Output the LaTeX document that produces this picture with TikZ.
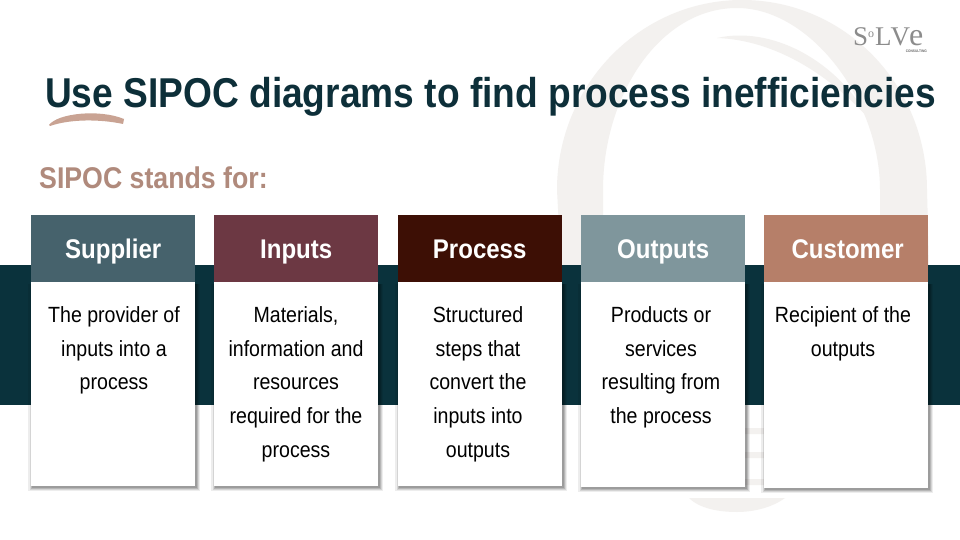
\documentclass[tikz,border=0pt]{standalone}
\usepackage{fontspec}
\setmainfont{Liberation Sans}[FakeStretch=0.89]
\newfontfamily\logofont{Liberation Serif}
\definecolor{deepteal}{HTML}{0A323C}
\definecolor{titleteal}{HTML}{0D2F39}
\definecolor{subtitlerose}{HTML}{B08A7C}
\definecolor{brush}{HTML}{C9A393}
\definecolor{ringgrey}{HTML}{F3F1EF}
\definecolor{csupplier}{HTML}{46626C}
\definecolor{cinputs}{HTML}{6C3843}
\definecolor{cprocess}{HTML}{3D0F05}
\definecolor{coutputs}{HTML}{7F969C}
\definecolor{ccustomer}{HTML}{B67F69}
\tikzset{
  cardbody/.style={fill=white,draw=none,inner sep=0pt,minimum width=164pt,anchor=north west},
  cardhead/.style={draw=none,inner sep=0pt,minimum width=164pt,minimum height=67pt,anchor=north west,
    text=white,text height=21.5pt,text depth=2.5pt,font=\fontsize{27}{30}\selectfont\bfseries},
  cardtext/.style={anchor=north,align=center,inner sep=0pt,text=black,
    font=\fontsize{22}{33.6}\selectfont},
  softshadow/.style={fill=black,opacity=#1},
}
\begin{document}
\begin{tikzpicture}[x=1pt,y=-1pt]
\useasboundingbox (0,0) rectangle (960,540);
\fill[white] (0,0) rectangle (960,540);
% background ring (arch of the large O)
\fill[ringgrey,even odd rule]
  (561,265) -- (557,190) .. controls (557,85) and (640,0) .. (742,0)
  .. controls (845,0) and (927,85) .. (927,190) -- (929,265) -- cycle
  (603,265) -- (603,190) .. controls (603,95) and (660,8) .. (737,8)
  .. controls (810,8) and (880,100) .. (880,190) -- (880,265) -- cycle;
\fill[ringgrey] (717,38) .. controls (770,26) and (835,58) .. (870,120)
  .. controls (830,75) and (775,40) .. (717,38) -- cycle;
% bottom segment of the O and the faint bars
\fill[ringgrey] (689,498) -- (785,498) .. controls (770,509) and (750,512) .. (737,512)
  .. controls (720,512) and (700,509) .. (689,498) -- cycle;
\fill[ringgrey] (745,428) rectangle (765,434) (745,452) rectangle (765,458) (745,479) rectangle (765,485);
% band
\fill[deepteal] (0,265) rectangle (960,405);
% title
\node[anchor=base west,inner sep=0pt,text=titleteal,font=\fontsize{41.7}{45}\selectfont\bfseries] (title) at (45,108) {Use SIPOC diagrams to find process inefficiencies};
\fill[brush] (49,125) .. controls (58,113) and (100,109) .. (124,119) -- (123,124)
  .. controls (100,119) and (70,119) .. (50,126) -- cycle;
\node[anchor=base west,inner sep=0pt,text=subtitlerose,font=\fontsize{30}{34}\selectfont\bfseries] (subtitle) at (39,189) {SIPOC stands for:};
% logo
\node[anchor=base west,inner sep=0pt,text=black!45,text depth=0pt,font=\logofont\fontsize{27}{27}\selectfont] (logo) at (853,46) {S\raisebox{8pt}{\fontsize{12}{12}\selectfont o}\hspace{1pt}L\hspace{-1pt}V\hspace{-1pt}\fontsize{32}{32}\selectfont e};
\node[anchor=base east,inner sep=0pt,text=black!60,text height=3pt,text depth=0pt,font=\fontsize{3.6}{4}\selectfont\bfseries] (logosub) at (927,53) {CONSULTING};
% soft card shadows
\foreach \xa/\xb/\yb in {31/195/486,214/378/486,397.5/561.5/486,581/745/487,764/928/488}{
  \fill[softshadow=.07] (\xa-3,284) rectangle (\xb+5,\yb+5);
  \fill[softshadow=.10] (\xa-1,284) rectangle (\xb+4,\yb+4);
  \fill[softshadow=.14] (\xa,284) rectangle (\xb+3,\yb+3);
  \fill[softshadow=.14] (\xa+1,284) rectangle (\xb+2,\yb+2);
}
% cards
\node[cardbody,minimum height=204pt] (b1) at (31,282) {};
\node[cardbody,minimum height=204pt] (b2) at (214,282) {};
\node[cardbody,minimum height=204pt] (b3) at (397.5,282) {};
\node[cardbody,minimum height=205pt] (b4) at (581,282) {};
\node[cardbody,minimum height=206pt] (b5) at (764,282) {};
\node[cardhead,fill=csupplier] (h1) at (31,215) {Supplier};
\node[cardhead,fill=cinputs] (h2) at (214,215) {Inputs};
\node[cardhead,fill=cprocess] (h3) at (397.5,215) {Process};
\node[cardhead,fill=coutputs] (h4) at (581,215) {Outputs};
\node[cardhead,fill=ccustomer] (h5) at (764,215) {\hspace{3pt}Customer};
\node[cardtext] (t1) at (114,306.5) {The provider of\\inputs into a\\process};
\node[cardtext] (t2) at (296,306.5) {Materials,\\information and\\resources\\required for the\\process};
\node[cardtext] (t3) at (478,306.5) {Structured\\steps that\\convert the\\inputs into\\outputs};
\node[cardtext] (t4) at (661,306.5) {Products or\\services\\resulting from\\the process};
\node[cardtext] (t5) at (843,306.5) {Recipient of the\\outputs};
\end{tikzpicture}
\end{document}
